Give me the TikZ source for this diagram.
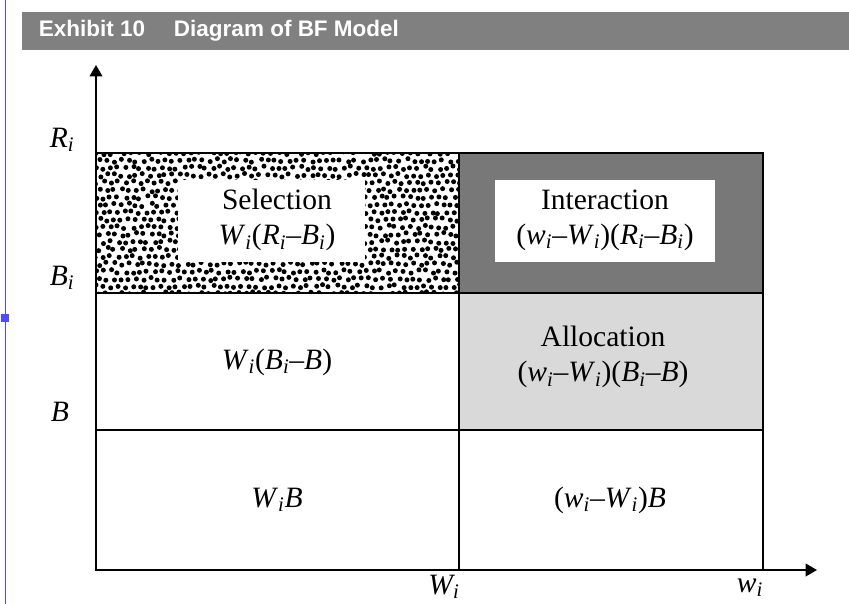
\documentclass[tikz,border=0pt]{standalone}
\usepackage{fontspec}
\setmainfont{Liberation Serif}
\newfontfamily\hdfont{Liberation Sans}
\usetikzlibrary{arrows}
\definecolor{bardark}{RGB}{128,128,128}
\definecolor{celldark}{RGB}{120,120,120}
\definecolor{celllight}{RGB}{217,217,217}
\newcommand{\vi}[2]{\textit{#1}\textsubscript{\textit{#2}}}
\newcommand{\mn}{\textendash}
\begin{document}
\begin{tikzpicture}[x=0.025cm,y=-0.025cm,>=latex']
  \tikzset{cell/.style={draw=black,line width=0.8pt}}
  \tikzset{lbl/.style={font=\fontsize{21}{25}\selectfont,align=center}}
  \tikzset{axl/.style={font=\fontsize{21}{23}\selectfont\itshape}}
  \useasboundingbox (0,0) rectangle (849,604);

% header and side mark
\fill[bardark] (22,12) rectangle (849,50);
\node[anchor=west,text=white,font=\hdfont\bfseries\fontsize{16}{18}\selectfont] (hd) at (34,31) {Exhibit 10\quad\ Diagram of BF Model};
\draw[blue!70,line width=0.6pt] (5,0) -- (5,604);
\fill[blue!70] (1,314) rectangle (9,322);

% cells
\fill[celldark] (459,153) rectangle (763,293);
\fill[celllight] (459,293) rectangle (763,430);
\pgfmathsetseed{7}
\begin{scope}
\clip (96,153) rectangle (459,293);
\foreach \i in {0,...,50}{
  \foreach \j in {0,...,19}{
    \pgfmathsetmacro{\dx}{96+\i*7.3+3.6*mod(\j,2)+rand*1.8}
    \pgfmathsetmacro{\dy}{153+\j*7.4+rand*1.8}
    \fill (\dx,\dy) circle (2.5);
  }
}
\end{scope}
\fill[white] (178,180) rectangle (365,262);
\fill[white] (495,180) rectangle (715,262);
\draw[cell] (96,153) rectangle (763,570);
\draw[cell] (96,293) -- (763,293);
\draw[cell] (96,430) -- (763,430);
\draw[cell] (459,153) -- (459,570);

% axes
\coordinate (o) at (96,570);
\coordinate (yt) at (96,65);
\coordinate (xt) at (817,570);
\draw[->,line width=1.2pt,>=triangle 60] (o) -- (yt);
\draw[->,line width=1.2pt,>=triangle 60] (o) -- (xt);

% labels
\node[lbl] (sel) at (277,220) {Selection\\\vi{W}{i}(\vi{R}{i}\mn\vi{B}{i})};
\node[lbl] (int) at (605,220) {Interaction\\(\vi{w}{i}\mn\vi{W}{i})(\vi{R}{i}\mn\vi{B}{i})};
\node[lbl] (mid) at (277,362) {\vi{W}{i}(\vi{B}{i}\mn\textit{B})};
\node[lbl] (alc) at (603,357) {Allocation\\(\vi{w}{i}\mn\vi{W}{i})(\vi{B}{i}\mn\textit{B})};
\node[lbl] (bot) at (277,500) {\vi{W}{i}\textit{B}};
\node[lbl] (bwr) at (610,500) {(\vi{w}{i}\mn\vi{W}{i})\textit{B}};

\node[axl] (ri) at (62,140) {\vi{R}{i}};
\node[axl] (bi) at (62,278) {\vi{B}{i}};
\node[axl] (bb) at (60,412) {B};
\node[axl] (wi) at (444,587) {\vi{W}{i}};
\node[axl] (wl) at (750,588) {\vi{w}{i}};
\end{tikzpicture}
\end{document}
